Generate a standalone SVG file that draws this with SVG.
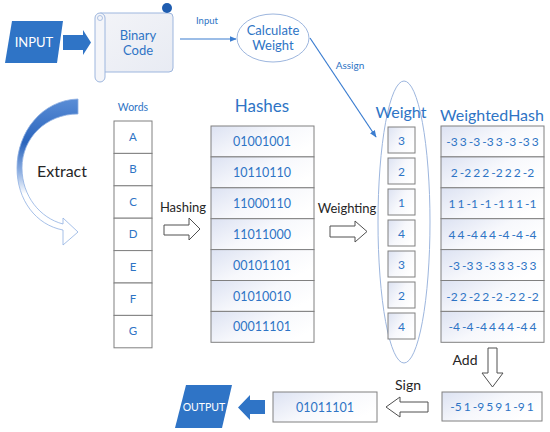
<svg xmlns="http://www.w3.org/2000/svg" width="550" height="432" viewBox="0 0 550 432">
<defs>
<style>
.t{font-family:Lato,"Liberation Sans",sans-serif;fill:#2E74C5;text-anchor:middle}
.k{font-family:Lato,"Liberation Sans",sans-serif;fill:#262626;text-anchor:middle}
.w{font-family:Lato,"Liberation Sans",sans-serif;fill:#ffffff;text-anchor:middle}
.box{fill:url(#bg);stroke:#808080;stroke-width:1}
.wbox{fill:#ffffff;stroke:#808080;stroke-width:1}
.oarrow{fill:#ffffff;stroke:#505050;stroke-width:1}
.blue{fill:#2F74C6}
.line{stroke:#3B7DD0;stroke-width:1.2;fill:none}
</style>
<linearGradient id="bg" x1="0" y1="0" x2="1" y2="0.6">
<stop offset="0" stop-color="#DCE2F2"/>
<stop offset="0.55" stop-color="#F7F8FC"/>
<stop offset="1" stop-color="#FFFFFF"/>
</linearGradient>
<linearGradient id="scroll" x1="0" y1="0" x2="1" y2="1">
<stop offset="0" stop-color="#F3F4F8"/>
<stop offset="1" stop-color="#E8EBF3"/>
</linearGradient>
<linearGradient id="curv" x1="0" y1="0" x2="0" y2="1">
<stop offset="0" stop-color="#5A8DD6"/>
<stop offset="0.3" stop-color="#2A64BC"/>
<stop offset="0.5" stop-color="#8FB0E2"/>
<stop offset="0.65" stop-color="#FFFFFF"/>
<stop offset="1" stop-color="#FFFFFF"/>
</linearGradient>
<marker id="ah" viewBox="0 0 10 10" refX="9" refY="5" markerWidth="6" markerHeight="6" orient="auto">
<path d="M0,1 L10,5 L0,9 Z" fill="#3B7DD0"/>
</marker>
</defs>

<g id="input">
<polygon class="blue" points="12,21 63,21 57,63 5,63"/>
<text class="w" x="34" y="47" font-size="13">INPUT</text>
</g>

<g id="binary-code">
<rect x="97" y="13" width="76" height="59" rx="4" fill="url(#scroll)" stroke="#9DB6DE" stroke-width="1"/>
<rect x="95" y="13" width="10" height="69" rx="5" fill="#F4F5F9" stroke="#9DB6DE" stroke-width="1"/>
<circle cx="100" cy="18" r="2.5" fill="none" stroke="#9DB6DE" stroke-width="0.8"/>
<circle cx="167" cy="8" r="5" fill="#1F5DB0"/>
<text class="t" x="138" y="40" font-size="13">Binary</text>
<text class="t" x="138" y="55" font-size="13">Code</text>
</g>

<g id="calculate-weight">
<ellipse cx="273" cy="38" rx="36" ry="24" fill="#ffffff" stroke="#9DB6DE" stroke-width="1"/>
<text class="t" x="273" y="35" font-size="13">Calculate</text>
<text class="t" x="273" y="50" font-size="13">Weight</text>
</g>

<g id="extract">
<path d="M78,99 C42,100 17,132 17,168 C17,200 36,225 63,230 L63,245 L78,232 L63,218 L63,224 C40,218 22,196 22,168 C22,138 46,114 78,114 Z" fill="url(#curv)" stroke="#8FB0E2" stroke-width="0.8"/>
<text class="k" x="62" y="177" font-size="16">Extract</text>
</g>

<g id="words">
<text class="t" x="133" y="111" font-size="10.5">Words</text>
<rect class="wbox" x="114" y="121" width="38" height="32.4"/>
<rect class="wbox" x="114" y="153.4" width="38" height="32.4"/>
<rect class="wbox" x="114" y="185.8" width="38" height="32.4"/>
<rect class="wbox" x="114" y="218.2" width="38" height="32.4"/>
<rect class="wbox" x="114" y="250.6" width="38" height="32.4"/>
<rect class="wbox" x="114" y="283" width="38" height="32.4"/>
<rect class="wbox" x="114" y="315.4" width="38" height="32.4"/>
<text class="t" x="133" y="141" font-size="11.5">A</text>
<text class="t" x="133" y="173.4" font-size="11.5">B</text>
<text class="t" x="133" y="205.8" font-size="11.5">C</text>
<text class="t" x="133" y="238.2" font-size="11.5">D</text>
<text class="t" x="133" y="270.6" font-size="11.5">E</text>
<text class="t" x="133" y="303" font-size="11.5">F</text>
<text class="t" x="133" y="335.4" font-size="11.5">G</text>
</g>

<g id="hashes">
<text class="t" x="262" y="112" font-size="17">Hashes</text>
<rect class="box" x="211" y="126" width="103" height="30.9"/>
<rect class="box" x="211" y="156.9" width="103" height="30.9"/>
<rect class="box" x="211" y="187.8" width="103" height="30.9"/>
<rect class="box" x="211" y="218.7" width="103" height="30.9"/>
<rect class="box" x="211" y="249.6" width="103" height="30.9"/>
<rect class="box" x="211" y="280.5" width="103" height="30.9"/>
<rect class="box" x="211" y="311.4" width="103" height="30.9"/>
<text class="t" x="262" y="146" font-size="12.5">01001001</text>
<text class="t" x="262" y="176.9" font-size="12.5">10110110</text>
<text class="t" x="262" y="207.8" font-size="12.5">11000110</text>
<text class="t" x="262" y="238.7" font-size="12.5">11011000</text>
<text class="t" x="262" y="269.6" font-size="12.5">00101101</text>
<text class="t" x="262" y="300.5" font-size="12.5">01010010</text>
<text class="t" x="262" y="331.4" font-size="12.5">00011101</text>
</g>

<g id="weight">
<ellipse cx="404" cy="222" rx="26" ry="141" fill="none" stroke="#9DB6DE" stroke-width="1"/>
<text class="t" x="401" y="118" font-size="16">Weight</text>
<rect class="box" x="388" y="127" width="27" height="26"/>
<rect class="box" x="388" y="158" width="27" height="26"/>
<rect class="box" x="388" y="189" width="27" height="26"/>
<rect class="box" x="388" y="220" width="27" height="26"/>
<rect class="box" x="388" y="251" width="27" height="26"/>
<rect class="box" x="388" y="282" width="27" height="26"/>
<rect class="box" x="388" y="313" width="27" height="26"/>
<text class="t" x="401.5" y="144.5" font-size="12">3</text>
<text class="t" x="401.5" y="175.5" font-size="12">2</text>
<text class="t" x="401.5" y="206.5" font-size="12">1</text>
<text class="t" x="401.5" y="237.5" font-size="12">4</text>
<text class="t" x="401.5" y="268.5" font-size="12">3</text>
<text class="t" x="401.5" y="299.5" font-size="12">2</text>
<text class="t" x="401.5" y="330.5" font-size="12">4</text>
</g>

<g id="weighted-hash">
<text class="t" x="492" y="121" font-size="16">WeightedHash</text>
<rect class="box" x="441" y="126" width="103" height="30.9"/>
<rect class="box" x="441" y="156.9" width="103" height="30.9"/>
<rect class="box" x="441" y="187.8" width="103" height="30.9"/>
<rect class="box" x="441" y="218.7" width="103" height="30.9"/>
<rect class="box" x="441" y="249.6" width="103" height="30.9"/>
<rect class="box" x="441" y="280.5" width="103" height="30.9"/>
<rect class="box" x="441" y="311.4" width="103" height="30.9"/>
<text class="t" x="492.5" y="146" font-size="12" word-spacing="-1">-3 3 -3 -3 3 -3 -3 3</text>
<text class="t" x="492.5" y="176.9" font-size="12" word-spacing="-1">2 -2 2 2 -2 2 2 -2</text>
<text class="t" x="492.5" y="207.8" font-size="12" word-spacing="-1">1 1 -1 -1 -1 1 1 -1</text>
<text class="t" x="492.5" y="238.7" font-size="12" word-spacing="-1">4 4 -4 4 4 -4 -4 -4</text>
<text class="t" x="492.5" y="269.6" font-size="12" word-spacing="-1">-3 -3 3 -3 3 3 -3 3</text>
<text class="t" x="492.5" y="300.5" font-size="12" word-spacing="-1">-2 2 -2 2 -2 -2 2 -2</text>
<text class="t" x="492.5" y="331.4" font-size="12" word-spacing="-1">-4 -4 -4 4 4 4 -4 4</text>
</g>

<g id="sum">
<rect class="box" x="442" y="392" width="100" height="29"/>
<text class="t" x="492" y="411" font-size="12" word-spacing="-1">-5 1 -9 5 9 1 -9 1</text>
</g>

<g id="result">
<rect class="box" x="273" y="392" width="104" height="30"/>
<text class="t" x="325" y="412" font-size="12.5">01011101</text>
</g>

<g id="output">
<polygon class="blue" points="186,385 232,385 222,428 175,428"/>
<text class="w" x="204" y="410.5" font-size="10.5">OUTPUT</text>
</g>

<g id="connectors">
<polygon class="blue" points="63,35 83,35 83,30 91,42.5 83,55 83,50 63,50"/>
<line class="line" x1="180" y1="39" x2="236" y2="39" marker-end="url(#ah)"/>
<text class="t" x="207" y="24" font-size="9.5">Input</text>
<line class="line" x1="310" y1="38" x2="376" y2="137" marker-end="url(#ah)"/>
<text class="t" x="350" y="69" font-size="10">Assign</text>
<polygon class="oarrow" points="164,225 189,225 189,218 200,229 189,240 189,235 164,235"/>
<text class="k" x="183" y="212" font-size="13">Hashing</text>
<polygon class="oarrow" points="330,226 355,226 355,221 367,231.5 355,242 355,237 330,237"/>
<text class="k" x="347" y="213" font-size="13">Weighting</text>
<polygon class="oarrow" points="488,348 497,348 497,373 503,373 492.5,387 482,373 488,373"/>
<text class="k" x="465" y="365" font-size="14">Add</text>
<polygon class="oarrow" points="428,402 400,402 400,397 386,407 400,417 400,412 428,412"/>
<text class="k" x="408" y="390" font-size="14">Sign</text>
<polygon class="blue" points="265,400 250,400 250,395 238,407.5 250,420 250,414 265,414"/>
</g>
</svg>
